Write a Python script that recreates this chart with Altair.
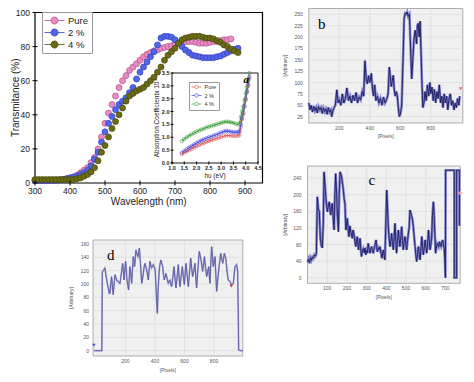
import altair as alt
import pandas as pd

FONT = "Liberation Sans"
SERIF = "Liberation Serif"
W, H = 458, 366

# ---------------- (a) transmittance spectra ----------------
series_names = ["Pure", "2 %", "4 %"]
main_fill = ["#e88cc4", "#5266ec", "#6b6b14"]
main_stroke = ["#b4508a", "#2f3fb8", "#46460a"]
inset_colors = ["#e05a5a", "#4b4be0", "#3f9f3f"]

wavelength = [300, 310, 320, 330, 340, 350, 360, 370, 380, 390,
              400, 410, 420, 430, 440, 450, 460, 470, 480, 490,
              500, 510, 520, 530, 540, 550, 560, 570, 580, 590,
              600, 610, 620, 630, 640, 650, 660, 670, 680, 690,
              700, 710, 720, 730, 740, 750, 760, 770, 780, 790,
              800, 810, 820, 830, 840, 850, 860, 870, 880]
T_pure = [1.5, 1.5, 1.5, 1.5, 1.5, 1.6, 1.7, 1.8, 2.0, 2.5,
          3.0, 3.5, 4.5, 6.0, 7.5, 9.0, 12, 15, 20, 27,
          35, 41, 46, 51, 56, 60, 63, 66, 68, 70,
          72, 74, 75.5, 76.5, 77.5, 78, 79, 79.5, 80, 80.5,
          81, 82, 82.5, 83, 83, 83, 82.5, 82, 82, 82,
          82.5, 83, 83, 83.5, 84, 84, 84.5]
T_2 = [1.5, 1.5, 1.5, 1.5, 1.5, 1.5, 1.6, 1.8, 2.0, 2.5,
       3.0, 3.5, 4.0, 5.0, 6.0, 7.5, 10, 14, 18, 24,
       30, 35, 39, 43, 46, 48, 50, 53, 56, 61,
       65, 68, 71, 74, 77, 81, 85, 86, 86, 85.5,
       84, 82, 80, 78, 76.5, 75, 74.5, 74, 73.5, 73.5,
       73.5, 73.5, 74, 74.5, 75.5, 76.5, 77.5, 78.5, 79]
T_4 = [2, 2, 2, 2, 2, 2, 2, 2, 2, 2,
       2, 2, 2.5, 3, 4, 5, 6.5, 9, 13, 18,
       22, 27, 32, 36, 40, 44, 48, 51, 52.5, 54,
       55, 56, 58, 60, 62, 65, 68, 72, 75, 77,
       79, 82, 84, 85, 85.5, 86, 86, 86, 85.5, 85,
       85, 84.5, 83.5, 82.5, 81, 80, 78.5, 77.5, 76.5]

# ---------------- inset: absorption coefficient ----------------
hv = [1.4, 1.5, 1.6, 1.7, 1.8, 1.9, 2.0, 2.1, 2.2, 2.3, 2.4, 2.5, 2.6, 2.7,
      2.8, 2.9, 3.0, 3.1, 3.2, 3.3, 3.4, 3.5, 3.6, 3.7, 3.75, 3.8, 3.85,
      3.9, 3.95, 4.0, 4.05, 4.1, 4.15]
alpha_pure = [0.35, 0.4, 0.45, 0.5, 0.55, 0.6, 0.65, 0.7, 0.74, 0.78,
              0.82, 0.86, 0.89, 0.92, 0.95, 0.98, 1.01, 1.04, 1.07, 1.07,
              1.06, 1.05, 1.05, 1.06, 1.1, 1.4, 1.7, 1.9, 2.2, 2.45, 2.75, 3.0, 3.3]
alpha_2 = [0.4, 0.47, 0.53, 0.6, 0.66, 0.72, 0.78, 0.83, 0.88, 0.92,
           0.96, 1.0, 1.03, 1.07, 1.1, 1.14, 1.18, 1.22, 1.25, 1.24,
           1.22, 1.2, 1.2, 1.2, 1.25, 1.5, 1.75, 1.95, 2.2, 2.5, 2.8, 3.05, 3.35]
alpha_4 = [0.85, 0.93, 1.0, 1.06, 1.12, 1.17, 1.22, 1.26, 1.3, 1.34,
           1.38, 1.41, 1.44, 1.47, 1.5, 1.53, 1.56, 1.59, 1.61, 1.6,
           1.58, 1.56, 1.52, 1.5, 1.55, 1.8, 2.0, 2.2, 2.45, 2.7, 2.95, 3.2, 3.5]

# ---------------- (b), (c), (d) intensity profiles ----------------
b_px = [0, 8, 16, 24, 32, 40, 48, 56, 64, 72, 80, 88, 96, 104, 112, 120, 128, 136, 144, 150,
        158, 166, 174, 184, 192, 200, 210, 220, 230, 240, 250, 260, 270, 280, 290, 300, 310, 320, 330, 340,
        350, 360, 368, 376, 384, 392, 400, 410, 418, 425, 432, 440, 450, 460, 470, 480, 490, 500, 510, 520,
        528, 535, 541, 548, 554, 560, 567, 574, 580, 587, 594, 600, 609, 618, 625, 631, 638, 645, 652, 660,
        667, 675, 682, 690, 698, 707, 712, 718, 724, 730, 736, 742, 748, 755, 762, 770, 778, 786, 794, 800,
        808, 816, 824, 832, 840, 848, 856, 864, 872, 880, 888, 896, 904, 912, 920, 928, 936, 944, 952, 960,
        968, 976, 984, 990]
b_val = [55, 40, 50, 35, 48, 38, 45, 33, 47, 40, 45, 32, 44, 36, 42, 30, 45, 35, 40, 25,
         38, 45, 50, 84, 55, 62, 50, 75, 55, 65, 88, 60, 70, 55, 72, 60, 78, 55, 68, 62,
         80, 70, 148, 110, 97, 115, 100, 120, 85, 70, 95, 60, 70, 55, 65, 50, 68, 55, 62, 75,
         134, 110, 91, 105, 116, 85, 70, 80, 72, 45, 25, 30, 48, 150, 240, 252, 250, 255, 245, 250,
         180, 108, 150, 196, 215, 185, 225, 230, 200, 235, 170, 100, 45, 55, 80, 60, 95, 70, 100, 75,
         90, 60, 85, 55, 80, 65, 95, 55, 70, 45, 75, 55, 70, 40, 65, 75, 50, 60, 40, 55,
         45, 65, 50, 70]

c_px = [0, 5, 10, 15, 20, 25, 30, 35, 40, 45, 50, 55, 60, 65, 70, 75, 80, 84, 90, 94,
        98, 101, 106, 111, 115, 118, 122, 126, 131, 135, 139, 143, 148, 152, 157, 161, 165, 169, 173, 178,
        182, 186, 190, 195, 202, 206, 210, 215, 219, 223, 227, 231, 235, 240, 245, 248, 252, 256, 259, 263,
        267, 270, 274, 279, 283, 288, 292, 296, 300, 304, 308, 312, 317, 321, 325, 330, 334, 338, 343, 348,
        351, 354, 360, 364, 368, 373, 378, 382, 385, 389, 393, 397, 402, 406, 410, 414, 419, 423, 427, 431,
        436, 440, 444, 448, 452, 457, 461, 465, 469, 474, 478, 482, 486, 490, 495, 499, 503, 508, 512, 516,
        520, 525, 529, 533, 537, 541, 546, 550, 554, 558, 563, 567, 571, 576, 580, 584, 588, 592, 597, 601,
        605, 610, 614, 618, 622, 626, 630, 634, 639, 642, 646, 650, 654, 658, 662, 666, 670, 674, 678, 682,
        686, 690, 694, 697, 699, 700, 701, 745, 745, 757, 757, 771, 771]
c_val = [38, 45, 35, 48, 42, 50, 47, 55, 52, 58, 195, 165, 160, 95, 78, 72, 130, 255, 215, 187,
         170, 159, 175, 183, 160, 151, 170, 179, 140, 115, 200, 251, 200, 147, 111, 200, 255, 250, 243, 225,
         211, 190, 179, 115, 143, 120, 99, 125, 111, 105, 95, 115, 107, 90, 75, 85, 99, 80, 67, 85,
         95, 70, 51, 65, 70, 60, 72, 55, 65, 60, 83, 70, 59, 68, 75, 65, 59, 70, 80, 91,
         75, 63, 72, 68, 75, 60, 47, 60, 67, 55, 43, 120, 211, 170, 123, 95, 75, 90, 107, 85,
         67, 100, 131, 90, 59, 90, 115, 95, 75, 100, 123, 90, 67, 85, 99, 80, 67, 90, 107, 120,
         163, 155, 147, 140, 123, 100, 75, 55, 39, 55, 75, 60, 43, 70, 99, 75, 55, 70, 91, 75,
         59, 85, 115, 90, 67, 80, 95, 150, 183, 160, 107, 59, 70, 83, 80, 75, 87, 80, 75, 85,
         91, 80, 70, 45, 15, 0, 259, 259, 0, 0, 259, 259, 125]

d_px = [-12, 0, 20, 40, 43, 50, 61, 66, 72, 78, 84, 90, 95, 100, 106, 112, 117, 123, 129, 135,
        140, 146, 151, 157, 163, 168, 174, 181, 186, 190, 195, 201, 206, 210, 216, 221, 226, 230, 236, 242,
        247, 253, 258, 262, 267, 271, 278, 285, 290, 294, 302, 310, 316, 321, 326, 332, 338, 344, 350, 355,
        360, 366, 371, 377, 383, 389, 395, 400, 405, 410, 416, 422, 429, 434, 440, 446, 452, 457, 463, 468,
        474, 482, 490, 495, 501, 507, 513, 520, 529, 535, 542, 550, 558, 563, 569, 577, 585, 592, 599, 604,
        610, 618, 626, 634, 642, 648, 655, 663, 671, 676, 682, 690, 700, 706, 712, 717, 723, 729, 735, 742,
        750, 757, 764, 768, 773, 778, 784, 790, 795, 801, 807, 812, 818, 826, 834, 840, 845, 852, 859, 864,
        870, 876, 881, 888, 896, 902, 908, 914, 920, 926, 931, 936, 942, 948, 953, 957, 960, 964, 967, 980,
        995]
d_val = [0, 0, 0, 0, 118, 120, 124, 115, 108, 100, 94, 86, 86, 100, 111, 95, 84, 100, 114, 110,
         106, 104, 104, 102, 101, 110, 119, 131, 120, 106, 120, 134, 120, 106, 98, 91, 110, 126, 115, 101,
         120, 141, 135, 126, 140, 151, 145, 141, 148, 154, 130, 101, 108, 116, 125, 131, 126, 121, 112, 106,
         120, 134, 129, 124, 127, 129, 125, 124, 105, 80, 56, 95, 121, 130, 136, 131, 126, 115, 106, 110,
         116, 108, 101, 104, 106, 100, 96, 108, 126, 110, 94, 110, 129, 112, 96, 110, 126, 112, 99, 115,
         131, 112, 96, 118, 139, 125, 111, 120, 131, 112, 94, 120, 149, 143, 136, 128, 119, 130, 141, 126,
         111, 118, 126, 112, 101, 130, 156, 140, 126, 133, 141, 115, 89, 108, 126, 136, 146, 138, 131, 138,
         146, 141, 136, 120, 106, 105, 104, 101, 99, 100, 101, 113, 126, 127, 129, 124, 119, 60, 1, 0,
         0]

# cursor markers on the profiles
b_mark_x, b_mark_y = [996], [86]
c_mark_x, c_mark_y = [774], [204]
d_mark_x, d_mark_y, d_mark_c = [917, -14], [97, 8], ["#d02040", "#5050d0"]

# tick values
a_xticks = [300, 400, 500, 600, 700, 800, 900]
a_yticks = [0, 20, 40, 60, 80, 100]
i_xticks = [1.0, 1.5, 2.0, 2.5, 3.0, 3.5, 4.0, 4.5]
i_yticks = [0.0, 0.5, 1.0, 1.5, 2.0, 2.5, 3.0, 3.5]
b_xticks = [200, 400, 600, 800]
b_yticks = [25, 50, 75, 100, 125, 150, 175, 200, 225, 250]
c_xticks = [100, 200, 300, 400, 500, 600, 700]
c_yticks = [0, 40, 80, 120, 160, 200, 240]
d_xticks = [200, 400, 600, 800]
d_yticks = [0, 20, 40, 60, 80, 100, 120, 140, 160]

# panel placement inside the chart (pixels)
A_XDOM, A_XRNG, A_YDOM, A_YRNG = [300, 950], [27, 254.5], [0, 100], [175, 4.5]
I_XDOM, I_XRNG, I_YDOM, I_YRNG = [1.0, 4.5], [164, 250], [0, 3.5], [155, 65]
B_XDOM, B_XRNG, B_YDOM, B_YRNG = [0, 1010], [300.8, 454.8], [11, 262.7], [115, 0.5]
C_XDOM, C_XRNG, C_YDOM, C_YRNG = [0, 775], [299.5, 452.2], [-13.5, 269.2], [275.3, 158]
D_XDOM, D_XRNG, D_YDOM, D_YRNG = [-20, 995], [85, 234.8], [-8, 166], [348, 232]

LEG_PATH = "M-2,0L-0.7,0M0.7,0L2,0M0.7,0A0.7,0.7,0,1,1,-0.7,0A0.7,0.7,0,1,1,0.7,0"


def sc(dom, rng):
    return alt.Scale(domain=dom, range=rng, nice=False, zero=False)


def box_df(xdom, ydom):
    return pd.DataFrame({"x0": [xdom[0]], "x1": [xdom[1]], "y0": [ydom[0]], "y1": [ydom[1]]})


def enc_xy(sx, sy, xf="x", yf="y"):
    return dict(x=alt.X(f"{xf}:Q", scale=sx, axis=None), y=alt.Y(f"{yf}:Q", scale=sy, axis=None))


def axis_layers(sx, sy, xdom, ydom, xticks, yticks, fmt_x, fmt_y, xtitle, ytitle,
                lab_size, lab_color, lab_weight, x_dy, y_dx, title_size, xt_dy, yt_dy,
                tick_size=0, tick_color="black"):
    """Tick labels, ticks and titles, placed through the panel scales."""
    out = []
    xl = pd.DataFrame({"x": xticks, "y": ydom[0], "lab": [fmt_x.format(t) for t in xticks]})
    yl = pd.DataFrame({"x": xdom[0], "y": yticks, "lab": [fmt_y.format(t) for t in yticks]})
    out.append(alt.Chart(xl).mark_text(font=FONT, fontSize=lab_size, color=lab_color, fontWeight=lab_weight,
                                       baseline="top", align="center", dy=x_dy).encode(
        text="lab:N", **enc_xy(sx, sy)))
    out.append(alt.Chart(yl).mark_text(font=FONT, fontSize=lab_size, color=lab_color, fontWeight=lab_weight,
                                       baseline="middle", align="right", dx=y_dx).encode(
        text="lab:N", **enc_xy(sx, sy)))
    if tick_size:
        out.append(alt.Chart(xl).mark_tick(orient="vertical", size=tick_size, thickness=1,
                                           color=tick_color, opacity=1).encode(**enc_xy(sx, sy)))
        out.append(alt.Chart(yl).mark_tick(orient="horizontal", size=tick_size, thickness=1,
                                           color=tick_color, opacity=1).encode(**enc_xy(sx, sy)))
    xt = pd.DataFrame({"x": [(xdom[0] + xdom[1]) / 2], "y": [ydom[0]], "t": [xtitle]})
    yt = pd.DataFrame({"x": [xdom[0]], "y": [(ydom[0] + ydom[1]) / 2], "t": [ytitle]})
    out.append(alt.Chart(xt).mark_text(font=FONT, fontSize=title_size, color=lab_color,
                                       baseline="top", align="center", dy=xt_dy).encode(
        text="t:N", **enc_xy(sx, sy)))
    out.append(alt.Chart(yt).mark_text(font=FONT, fontSize=title_size, color=lab_color, angle=270,
                                       baseline="bottom", align="center", dy=yt_dy).encode(
        text="t:N", **enc_xy(sx, sy)))
    return out


# ================= main panel =================
xa, ya = sc(A_XDOM, A_XRNG), sc(A_YDOM, A_YRNG)
df_a = pd.DataFrame({
    "x": wavelength[:len(T_pure)] + wavelength[:len(T_2)] + wavelength[:len(T_4)],
    "y": T_pure + T_2 + T_4,
    "series": [series_names[0]] * len(T_pure) + [series_names[1]] * len(T_2) + [series_names[2]] * len(T_4),
})
frame_a = alt.Chart(box_df(A_XDOM, A_YDOM)).mark_rect(filled=False, stroke="black", strokeWidth=1.2).encode(
    x=alt.X("x0:Q", scale=xa, axis=None), x2="x1:Q",
    y=alt.Y("y0:Q", scale=ya, axis=None), y2="y1:Q")
main_legend = alt.Legend(title=None, orient="none", legendX=34, legendY=4,
                         symbolType=LEG_PATH, symbolSize=100, symbolStrokeWidth=0.8,
                         symbolOffset=4, labelOffset=8, labelFont=FONT, labelFontSize=9.5,
                         labelColor="#222", rowPadding=1, padding=3,
                         strokeColor="#999", fillColor="white")
pts_a = alt.Chart(df_a).mark_circle(size=36, opacity=1, strokeWidth=0.7).encode(
    fill=alt.Fill("series:N", scale=alt.Scale(domain=series_names, range=main_fill), legend=main_legend),
    stroke=alt.Stroke("series:N", scale=alt.Scale(domain=series_names, range=main_stroke), legend=main_legend),
    **enc_xy(xa, ya))
main = alt.layer(frame_a, pts_a, *axis_layers(
    xa, ya, A_XDOM, A_YDOM, a_xticks, a_yticks, "{:d}", "{:d}", "Wavelength (nm)", "Transmitance (%)",
    8.5, "#222", "normal", 4, -5, 10, 14, -14.5, tick_size=5))

# ================= inset =================
xi, yi = sc(I_XDOM, I_XRNG), sc(I_YDOM, I_YRNG)
df_i = pd.DataFrame({
    "x": hv * 3,
    "y": alpha_pure + alpha_2 + alpha_4,
    "series": [series_names[0]] * len(hv) + [series_names[1]] * len(hv) + [series_names[2]] * len(hv),
})
bg_i = alt.Chart(box_df(I_XDOM, I_YDOM)).mark_rect(fill="white", stroke="black", strokeWidth=0.9).encode(
    x=alt.X("x0:Q", scale=xi, axis=None), x2="x1:Q",
    y=alt.Y("y0:Q", scale=yi, axis=None), y2="y1:Q")
inset_legend = alt.Legend(title=None, orient="none", legendX=181, legendY=74,
                          symbolType=LEG_PATH, symbolSize=25, symbolStrokeWidth=0.7,
                          symbolOffset=2.5, labelOffset=5, labelFont=FONT, labelFontSize=5.5,
                          labelColor="#333", rowPadding=0.5, padding=2,
                          strokeColor="#999", fillColor="white")
line_i = alt.Chart(df_i).mark_line(strokeWidth=1.1).encode(
    color=alt.Color("series:N", scale=alt.Scale(domain=series_names, range=inset_colors), legend=inset_legend),
    **enc_xy(xi, yi))
pts_i = alt.Chart(df_i).mark_point(size=12, filled=False, strokeWidth=0.8).encode(
    color=alt.Color("series:N", scale=alt.Scale(domain=series_names, range=inset_colors), legend=None),
    **enc_xy(xi, yi))
txt_i = alt.Chart(pd.DataFrame({"x": [4.02], "y": [3.23], "t": ["a"]})).mark_text(
    font=SERIF, fontSize=11, fontStyle="italic", fontWeight="bold", color="black").encode(
    text="t:N", **enc_xy(xi, yi))
inset = alt.layer(bg_i, line_i, pts_i, txt_i, *axis_layers(
    xi, yi, I_XDOM, I_YDOM, i_xticks, i_yticks, "{:.1f}", "{:.1f}", "hυ (eV)", "Absorption Coefficientx 10⁴",
    5.5, "#222", "bold", 3, -2.5, 6.5, 10, -12, tick_size=3))


# ================= profile panels =================
def profile(xs, vals, xdom, xrng, ydom, yrng, xticks, yticks, lab, lab_x, lab_y,
            mk_x, mk_y, mk_col, mk_shape, under, over, x_dy, xt_dy, y_dx, yt_dy):
    sx, sy = sc(xdom, xrng), sc(ydom, yrng)
    bg = alt.Chart(box_df(xdom, ydom)).mark_rect(fill="#f0f0f0", stroke="#9a9a9a", strokeWidth=0.8).encode(
        x=alt.X("x0:Q", scale=sx, axis=None), x2="x1:Q",
        y=alt.Y("y0:Q", scale=sy, axis=None), y2="y1:Q")
    vg = alt.Chart(pd.DataFrame({"x": xticks, "y0": ydom[0], "y1": ydom[1]})).mark_rule(
        color="#d9d9d9", strokeWidth=0.6).encode(
        x=alt.X("x:Q", scale=sx, axis=None), y=alt.Y("y0:Q", scale=sy, axis=None), y2="y1:Q")
    hg = alt.Chart(pd.DataFrame({"y": yticks, "x0": xdom[0], "x1": xdom[1]})).mark_rule(
        color="#d9d9d9", strokeWidth=0.6).encode(
        y=alt.Y("y:Q", scale=sy, axis=None), x=alt.X("x0:Q", scale=sx, axis=None), x2="x1:Q")
    df = pd.DataFrame({"x": xs, "y": vals, "i": list(range(len(xs)))})
    layers = [bg, vg, hg]
    for col, wdt in (under, over):
        layers.append(alt.Chart(df).mark_line(color=col, strokeWidth=wdt).encode(
            order=alt.Order("i:Q"), **enc_xy(sx, sy)))
    mdf = pd.DataFrame({"x": mk_x, "y": mk_y, "c": mk_col})
    layers.append(alt.Chart(mdf).mark_point(shape=mk_shape, filled=True, size=14, opacity=0.9).encode(
        color=alt.Color("c:N", scale=None, legend=None), **enc_xy(sx, sy)))
    layers.append(alt.Chart(pd.DataFrame({"x": [lab_x], "y": [lab_y], "t": [lab]})).mark_text(
        font=SERIF, fontSize=15, color="black").encode(text="t:N", **enc_xy(sx, sy)))
    layers += axis_layers(sx, sy, xdom, ydom, xticks, yticks, "{:d}", "{:d}", "[Pixels]", "[Arbitrary]",
                          5, "#555", "normal", x_dy, y_dx, 5, xt_dy, yt_dy)
    return alt.layer(*layers)


pb = profile(b_px, b_val, B_XDOM, B_XRNG, B_YDOM, B_YRNG, b_xticks, b_yticks, "b", 85, 229,
             b_mark_x, b_mark_y, ["#e06070"], "triangle-down", ("#8585cc", 2.6), ("#1a1a60", 0.9),
             2.5, 10.5, -6, -21)
pc = profile(c_px, c_val, C_XDOM, C_XRNG, C_YDOM, C_YRNG, c_xticks, c_yticks, "c", 326, 235,
             c_mark_x, c_mark_y, ["#f0a0a0"], "circle", ("#8585cc", 2.6), ("#1a1a60", 0.9),
             3, 12, -6, -20)
pdd = profile(d_px, d_val, D_XDOM, D_XRNG, D_YDOM, D_YRNG, d_xticks, d_yticks, "d", 100, 143,
              d_mark_x, d_mark_y, d_mark_c, "triangle-down", ("#a0a0d4", 1.6), ("#55559a", 0.8),
              2.5, 11.5, -4, -19)

chart = alt.layer(main, inset, pb, pc, pdd).resolve_scale(
    x="independent", y="independent", color="independent", fill="independent", stroke="independent"
).resolve_legend(
    color="independent", fill="independent", stroke="independent"
).properties(width=W, height=H, autosize=alt.AutoSizeParams(type="none"), padding=0
).configure_view(stroke=None)

chart.save("out.html", embed_options={"renderer": "svg", "actions": False})
